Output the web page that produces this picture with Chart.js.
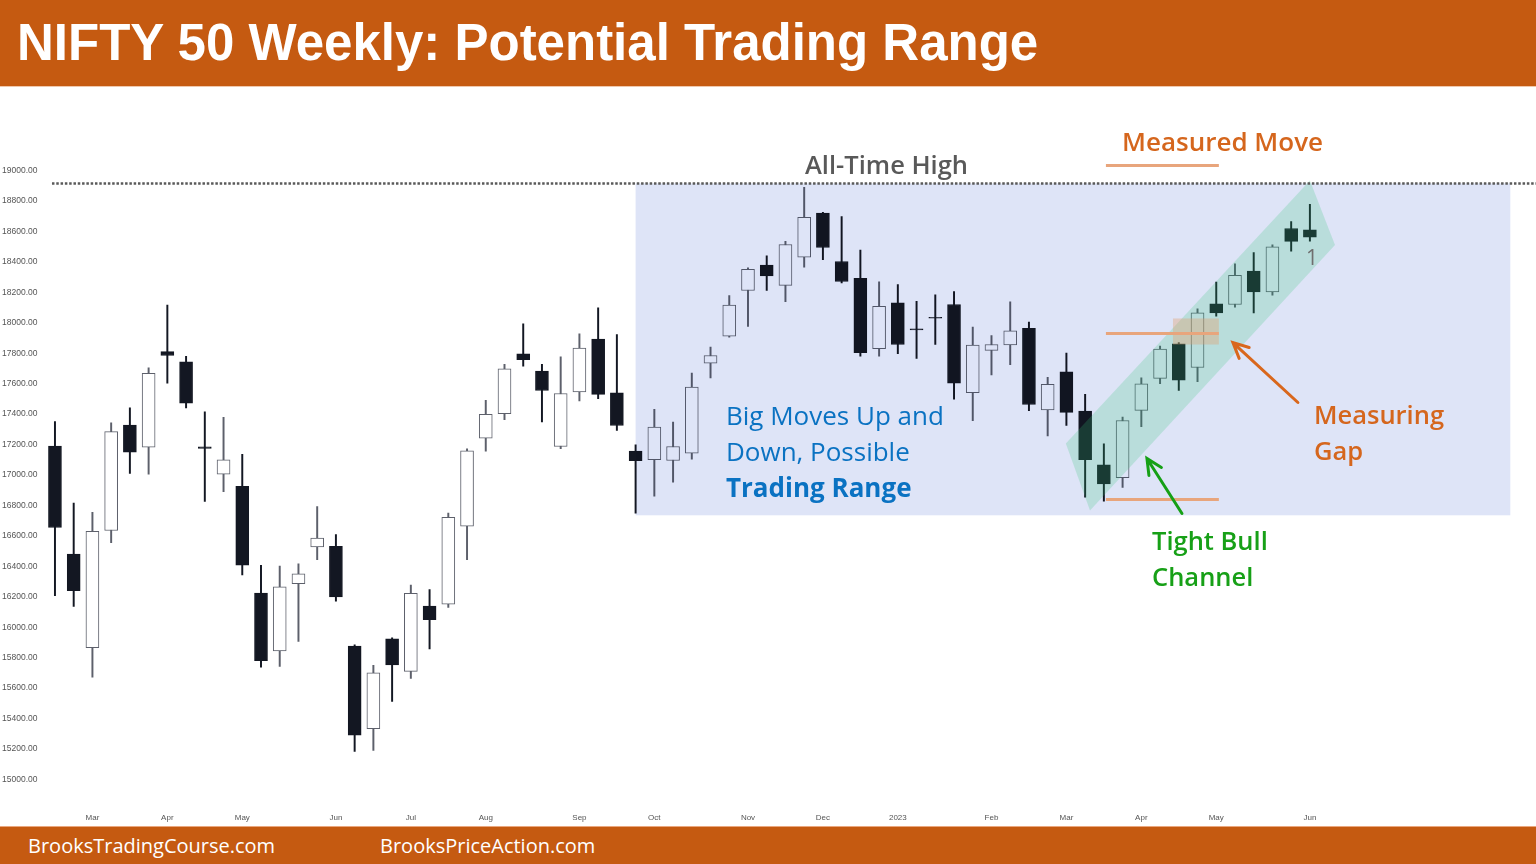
<!DOCTYPE html>
<html>
<head>
<meta charset="utf-8">
<script src="https://cdn.jsdelivr.net/npm/chart.js@4.4.1/dist/chart.umd.min.js"></script>
<style>
  html, body { margin: 0; padding: 0; background: #fff; }
  body { width: 1536px; height: 864px; position: relative; overflow: hidden; font-family: "Open Sans", sans-serif; }
  #grafico { position: absolute; left: 0; top: 0; }
  .barra { position: absolute; left: 0; width: 1536px; background: #C55A11; color: #fff; }
  #topo { top: 0; height: 86px; border-bottom: 1px solid #f0c8ac; }
  #topo h1 { margin: 0; padding-left: 17px; font: bold 51px/86px "Liberation Sans", Arial, sans-serif; white-space: nowrap; }
  #rodape { top: 826px; height: 38px; border-top: 1px solid #eaa77e; font-size: 20px; line-height: 38px; }
  #rodape span { position: absolute; top: 0; white-space: nowrap; }
  .nota { position: absolute; white-space: nowrap; font-size: 25.5px; line-height: 36px; }
</style>
</head>
<body>
<canvas id="grafico" width="1536" height="864"></canvas>

<div class="barra" id="topo"><h1>NIFTY 50 Weekly: Potential Trading Range</h1></div>

<div class="nota" style="left:805px; top:146px; color:#595959; font-weight:600;">All-Time High</div>
<div class="nota" style="left:1122px; top:123px; color:#D5661D; font-weight:600; font-size:26px;">Measured Move</div>
<div class="nota" style="left:726px; top:397px; color:#0A72C2; font-size:26px;">Big Moves Up and<br>Down, Possible<br><b>Trading Range</b></div>
<div class="nota" style="left:1314px; top:396px; color:#D5661D; font-weight:600;">Measuring<br>Gap</div>
<div class="nota" style="left:1152px; top:522px; color:#17A017; font-weight:600;">Tight Bull<br>Channel</div>
<div class="nota" style="left:1306px; top:239px; color:#6f6f6f; font-size:21px;">1</div>

<div class="barra" id="rodape">
  <span style="left:28px">BrooksTradingCourse.com</span>
  <span style="left:380px">BrooksPriceAction.com</span>
</div>

<script>
// velas semanais (leitura do gráfico)
const abertura = [17190, 16480, 15865, 16635, 17327, 17183, 17810, 17743, 17185, 17005,
  16925, 16224, 15845, 16286, 16527, 16532, 15876, 15334, 15924, 15710,
  16138, 16152, 16663, 17242, 17402, 17796, 17682, 17187, 17546, 17892,
  17540, 17157, 17100, 17095, 17143, 17734, 17911, 18212, 18379, 18245,
  18431, 18720, 18402, 18291, 17829, 18131, 17960, 18036, 18120, 17540,
  17818, 17855, 17964, 17428, 17677, 17419, 17067, 16982, 17424, 17634,
  17862, 17706, 18124, 18120, 18339, 18203, 18619, 18610];
const maxima = [17350, 16815, 16754, 17342, 17441, 17704, 18116, 17780, 17415, 17378,
  17135, 16406, 16401, 16417, 16793, 16609, 15885, 15749, 15931, 16276,
  16248, 16749, 17172, 17490, 17726, 17993, 17726, 17776, 17927, 18098,
  17923, 17198, 17432, 17347, 17669, 17840, 18179, 18361, 18440, 18534,
  18890, 18726, 18698, 18477, 18269, 18251, 18140, 18184, 18205, 17971,
  17916, 18138, 18004, 17642, 17800, 17529, 17205, 17380, 17638, 17846,
  17870, 18092, 18267, 18387, 18461, 18512, 18665, 18777];
const minimas = [16207, 16136, 15672, 16556, 17010, 17005, 17603, 17441, 16826, 16890,
  16344, 15738, 15742, 15907, 16443, 16171, 15184, 15190, 15512, 15663,
  15858, 16130, 16443, 17157, 17363, 17714, 17348, 17172, 17487, 17501,
  17292, 16749, 16861, 16953, 17104, 17638, 17905, 17975, 18212, 18138,
  18365, 18415, 18262, 17780, 17780, 17796, 17765, 17857, 17498, 17356,
  17658, 17724, 17422, 17257, 17325, 16855, 16828, 16918, 17317, 17599,
  17555, 17613, 18043, 18102, 18065, 18181, 18470, 18536];
const fechamento = [16655, 16240, 16630, 17285, 17150, 17667, 17785, 17472, 17175, 17100,
  16408, 15781, 16266, 16351, 16586, 16199, 15291, 15701, 15753, 16222,
  16049, 16721, 17159, 17398, 17697, 17757, 17555, 17535, 17833, 17529,
  17325, 17094, 17314, 17187, 17577, 17785, 18116, 18350, 18308, 18514,
  18693, 18494, 18271, 17803, 18107, 17857, 17952, 18030, 17603, 17853,
  17857, 17947, 17463, 17596, 17411, 17100, 16942, 17358, 17599, 17827,
  17623, 18065, 18065, 18312, 18203, 18499, 18534, 18562];

// eixos
const meses = ['Mar', 'Apr', 'May', 'Jun', 'Jul', 'Aug', 'Sep', 'Oct', 'Nov', 'Dec', '2023', 'Feb', 'Mar', 'Apr', 'May', 'Jun'];
const semanaDoMes = [2, 6, 10, 15, 19, 23, 28, 32, 37, 41, 45, 50, 54, 58, 62, 67];
const totalSemanas = 79; // inclui espaço vazio à direita
const ticksY = [15000, 15200, 15400, 15600, 15800, 16000, 16200, 16400, 16600, 16800, 17000,
  17200, 17400, 17600, 17800, 18000, 18200, 18400, 18600, 18800, 19000];

// anotações (índice da semana, preço)
const maximaHistorica = 18915;
const faixaLateral = { x1: 31.0, x2: 77.7, y1: 18915, y2: 16735 };
const canalAlta = [[53.97, 17207], [67.0, 18934], [68.34, 18510], [55.26, 16767]];
const gapMedicao = { x1: 59.69, x2: 62.14, y1: 18028, y2: 17857 };
const linhasMedida = [17929, 16839, 19033];
const linhasX = [56.11, 62.14];
const setaLaranja = [[66.36, 17476], [62.89, 17870]];
const setaVerde = [[60.17, 16747], [58.30, 17108]];

const rotulos = Array(totalSemanas).fill('');
semanaDoMes.forEach((s, i) => { rotulos[s] = meses[i]; });

const alta = abertura.map((o, i) => fechamento[i] >= o);
const ESCURO = '#131722';
const BORDA = '#5d606b';

function seta(ctx, x1, y1, x2, y2, cor) {
  const ang = Math.atan2(y2 - y1, x2 - x1);
  const tam = 17;
  ctx.strokeStyle = cor;
  ctx.lineWidth = 3;
  ctx.lineCap = 'round';
  ctx.beginPath();
  ctx.moveTo(x1, y1);
  ctx.lineTo(x2, y2);
  ctx.moveTo(x2 - tam * Math.cos(ang - 0.45), y2 - tam * Math.sin(ang - 0.45));
  ctx.lineTo(x2, y2);
  ctx.lineTo(x2 - tam * Math.cos(ang + 0.45), y2 - tam * Math.sin(ang + 0.45));
  ctx.stroke();
}

const anotacoes = {
  id: 'anotacoes',
  afterDatasetsDraw(chart) {
    const ctx = chart.ctx;
    const x = chart.scales.x, y = chart.scales.y;
    const px = v => x.getPixelForValue(v);
    const py = v => y.getPixelForValue(v);
    ctx.save();

    // faixa azul (multiplica, mantém velas escuras)
    ctx.globalCompositeOperation = 'multiply';
    ctx.fillStyle = '#dee4f7';
    ctx.fillRect(px(faixaLateral.x1), py(faixaLateral.y1), px(faixaLateral.x2) - px(faixaLateral.x1), py(faixaLateral.y2) - py(faixaLateral.y1));
    ctx.globalCompositeOperation = 'source-over';

    // canal de alta
    ctx.fillStyle = 'rgba(55, 195, 125, 0.22)';
    ctx.beginPath();
    canalAlta.forEach(([a, b], i) => (i ? ctx.lineTo(px(a), py(b)) : ctx.moveTo(px(a), py(b))));
    ctx.closePath();
    ctx.fill();

    // gap
    ctx.fillStyle = 'rgba(225, 160, 110, 0.38)';
    ctx.fillRect(px(gapMedicao.x1), py(gapMedicao.y1), px(gapMedicao.x2) - px(gapMedicao.x1), py(gapMedicao.y2) - py(gapMedicao.y1));

    // linhas do movimento medido
    ctx.strokeStyle = '#e8a57c';
    ctx.lineWidth = 3;
    linhasMedida.forEach(v => {
      ctx.beginPath();
      ctx.moveTo(px(linhasX[0]), py(v));
      ctx.lineTo(px(linhasX[1]), py(v));
      ctx.stroke();
    });

    // máxima histórica
    ctx.strokeStyle = '#5a5a5a';
    ctx.lineWidth = 2.5;
    ctx.setLineDash([2.5, 1.8]);
    ctx.beginPath();
    ctx.moveTo(px(-0.16), py(maximaHistorica));
    ctx.lineTo(chart.width, py(maximaHistorica));
    ctx.stroke();
    ctx.setLineDash([]);

    seta(ctx, px(setaLaranja[0][0]), py(setaLaranja[0][1]), px(setaLaranja[1][0]), py(setaLaranja[1][1]), '#D9671C');
    seta(ctx, px(setaVerde[0][0]), py(setaVerde[0][1]), px(setaVerde[1][0]), py(setaVerde[1][1]), '#16A016');
    ctx.restore();
  }
};

new Chart(document.getElementById('grafico').getContext('2d'), {
  type: 'bar',
  data: {
    labels: rotulos,
    datasets: [
      {
        label: 'corpo',
        data: abertura.map((o, i) => [o, fechamento[i]]),
        backgroundColor: alta.map(a => (a ? '#ffffff' : ESCURO)),
        borderColor: alta.map(a => (a ? BORDA : ESCURO)),
        borderWidth: 1,
        borderSkipped: false,
        barThickness: 13,
        grouped: false,
      },
      {
        label: 'pavio',
        data: minimas.map((l, i) => [l, maxima[i]]),
        backgroundColor: alta.map(a => (a ? BORDA : ESCURO)),
        borderWidth: 0,
        barThickness: 1.3,
        grouped: false,
      },
    ],
  },
  options: {
    responsive: false,
    animation: false,
    devicePixelRatio: 1,
    layout: { padding: { top: 109.6, left: 2, right: 10.7, bottom: 0 } },
    plugins: { legend: { display: false }, tooltip: { enabled: false } },
    scales: {
      x: {
        grid: { display: false, drawTicks: false },
        border: { display: false },
        ticks: { autoSkip: false, maxRotation: 0, padding: 3, color: '#555', font: { size: 8, family: 'Liberation Sans' } },
        afterFit: s => { s.height = 54.1; },
      },
      y: {
        min: 14800,
        max: 19400,
        grid: { display: false, drawTicks: false },
        border: { display: false },
        ticks: { crossAlign: 'far', padding: 0, color: '#555', font: { size: 8.5, family: 'Liberation Sans' }, callback: v => v.toFixed(2) },
        afterBuildTicks: s => { s.ticks = ticksY.map(v => ({ value: v })); },
        afterFit: s => { s.width = 43.6; },
      },
    },
  },
  plugins: [anotacoes],
});
</script>
</body>
</html>
